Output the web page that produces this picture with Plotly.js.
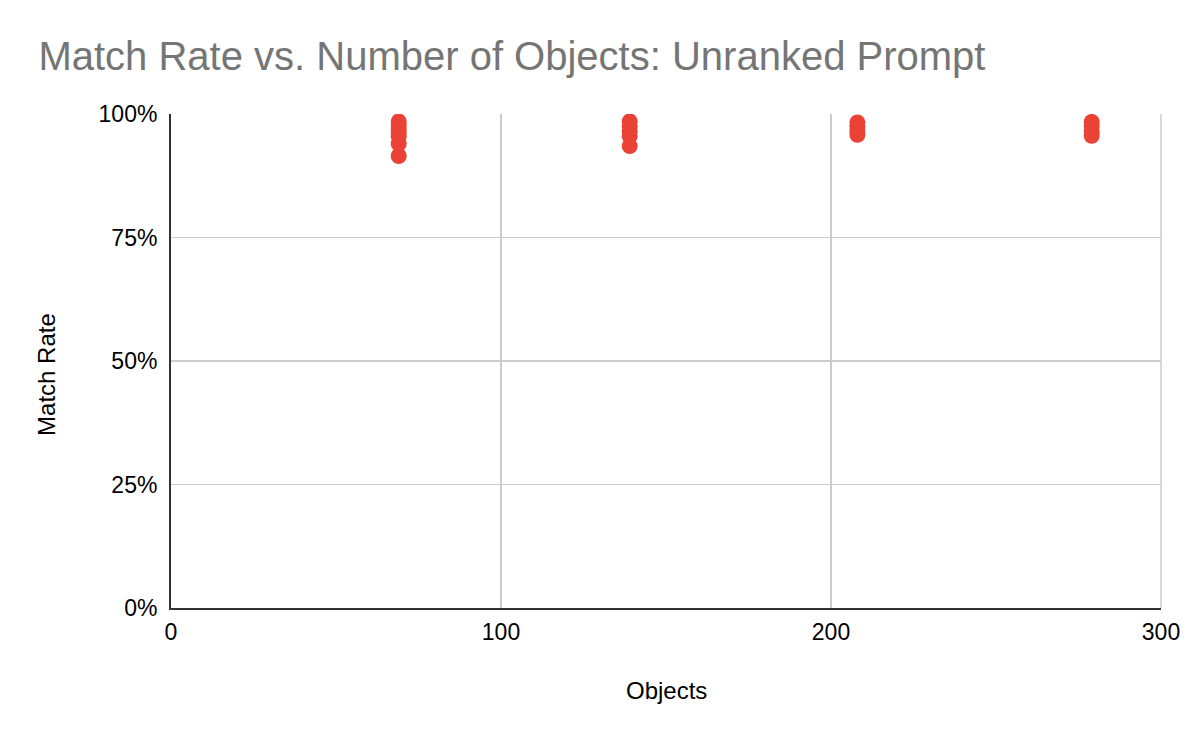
<!DOCTYPE html>
<html>
<head>
<meta charset="utf-8">
<script src="https://cdn.plot.ly/plotly-3.0.1.min.js"></script>
<style>
  html, body { margin: 0; padding: 0; background: #fff; }
  #chart { width: 1200px; height: 742px; }
</style>
</head>
<body>
<div id="chart"></div>
<script>
// number of objects per run and the match rate measured for it
const objects = [
    69, 69, 69, 69, 69, 69, 69,
    139, 139, 139, 139, 139,
    208, 208, 208, 208,
    279, 279, 279, 279
];
const matchRate = [
    0.985, 0.978, 0.970, 0.962, 0.955, 0.940, 0.915,
    0.985, 0.975, 0.965, 0.955, 0.935,
    0.983, 0.975, 0.966, 0.958,
    0.984, 0.975, 0.965, 0.956
];
const xTicks = [0, 100, 200, 300];
const yTicks = [0, 0.25, 0.5, 0.75, 1];

let trace = {
    type: "scatter",
    mode: "markers",
    x: objects,
    y: matchRate,
    marker: { size: 16, color: "#ea4335" },
    showlegend: false
};

let layout = {
    width: 1200,
    height: 742,
    margin: { l: 171, r: 39, t: 114, b: 134 },
    paper_bgcolor: "#ffffff",
    plot_bgcolor: "#ffffff",
    font: { family: "Liberation Sans, Arial, sans-serif", size: 23, color: "#000000" },
    title: {
        text: "Match Rate vs. Number of Objects: Unranked Prompt",
        font: { size: 40, color: "#757575" },
        x: 0.032, xref: "container", xanchor: "left",
        y: 0.925, yanchor: "middle"
    },
    xaxis: {
        range: [0, 300],
        tickvals: xTicks,
        ticks: "",
        ticklabelstandoff: 2,
        showgrid: true,
        gridcolor: "#cccccc",
        gridwidth: 1.5,
        zeroline: false,
        showline: true,
        linecolor: "#333333",
        linewidth: 2,
        tickfont: { size: 23 }
    },
    yaxis: {
        range: [0, 1],
        tickvals: yTicks,
        tickformat: ".0%",
        ticks: "",
        ticklabelstandoff: 7,
        showgrid: true,
        gridcolor: "#cccccc",
        gridwidth: 1.5,
        zeroline: false,
        showline: true,
        linecolor: "#333333",
        linewidth: 2,
        tickfont: { size: 23 }
    },
    // axis titles placed as annotations so they sit where the original has them
    annotations: [
        { text: "Objects", xref: "paper", yref: "paper", x: 0.5, y: -0.168,
          xanchor: "center", yanchor: "middle", showarrow: false, font: { size: 24 } },
        { text: "Match Rate", xref: "paper", yref: "paper", x: -0.1253, y: 0.4737,
          xanchor: "center", yanchor: "middle", textangle: -90, showarrow: false, font: { size: 24 } }
    ],
    shapes: [
        { type: "line", xref: "paper", yref: "paper", x0: 1, x1: 1, y0: 0, y1: 1,
          line: { color: "#cccccc", width: 1.5 } }
    ]
};

Plotly.newPlot("chart", [trace], layout, { displayModeBar: false, staticPlot: true });
</script>
</body>
</html>
